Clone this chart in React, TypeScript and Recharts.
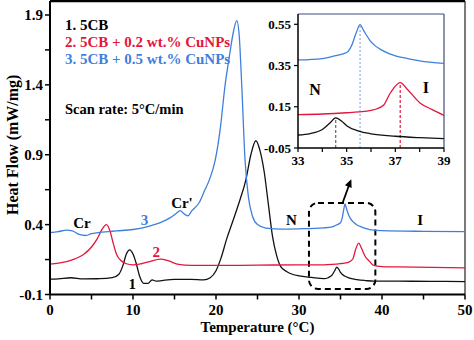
import React from 'react';
import { LineChart, Line, XAxis, YAxis, ReferenceLine, ReferenceArea, ReferenceDot } from 'recharts';

const FONT = '"Liberation Serif", "Times New Roman", serif';
const INK = '#111111';
const RED = '#e3163c';
const BLUE = '#3f7fdc';

// Series 1: 5CB (temperature °C, heat flow mW/mg)
const t1 = [0, 1, 2.5, 4, 6, 7.5, 8.3, 8.8, 9.2, 9.6, 10.0, 10.4, 10.8, 11.3, 11.8, 12.3, 12.8, 13.5, 15, 17, 18.5, 19.3, 20, 20.6, 21.3, 22, 22.9, 23.6, 24.2, 24.8, 25.3, 25.8, 26.3, 26.8, 27.3, 27.8, 28.5, 29.2, 30, 31.5, 33, 33.5, 34, 34.3, 34.55, 34.8, 35, 35.5, 36, 37, 38, 39, 42, 46, 50];
const h1 = [0.01, 0.012, 0.02, 0.012, 0.013, 0.02, 0.045, 0.11, 0.19, 0.22, 0.19, 0.12, 0.03, -0.02, -0.02, 0.005, -0.005, 0.0, 0.008, 0.008, 0.005, 0.02, 0.07, 0.16, 0.3, 0.42, 0.58, 0.72, 0.9, 1.0, 0.93, 0.78, 0.55, 0.32, 0.18, 0.1, 0.065, 0.045, 0.033, 0.022, 0.013, 0.02, 0.04, 0.07, 0.096, 0.08, 0.058, 0.032, 0.019, 0.007, 0.0, -0.005, -0.005, -0.006, -0.008];

// Series 2: 5CB + 0.2 wt.% CuNPs
const t2 = [0, 1, 2, 3, 4, 5, 5.7, 6.3, 6.8, 7.2, 7.6, 8.0, 8.5, 9.2, 10, 11, 12, 13.3, 14.3, 15.5, 17, 20, 25, 30, 33, 34, 35, 35.5, 36, 36.5, 36.8, 37.2, 37.5, 38, 38.5, 39, 40, 42, 50];
const h2 = [0.118, 0.125, 0.135, 0.155, 0.185, 0.24, 0.3, 0.37, 0.4, 0.36, 0.27, 0.19, 0.145, 0.12, 0.112, 0.12, 0.135, 0.153, 0.14, 0.115, 0.108, 0.108, 0.11, 0.112, 0.112, 0.115, 0.121, 0.125, 0.132, 0.156, 0.218, 0.267, 0.234, 0.17, 0.137, 0.108, 0.1, 0.097, 0.09];

// Series 3: 5CB + 0.5 wt.% CuNPs
const t3 = [0, 1, 2, 2.7, 3.5, 4.3, 5, 6, 7, 8, 10, 12, 13.5, 14.5, 15.2, 15.7, 16.1, 16.6, 17.1, 18, 18.6, 19.2, 19.9, 20.5, 21.1, 21.6, 22.1, 22.5, 22.8, 23.1, 23.5, 23.9, 24.4, 25, 26, 28, 30, 33, 34, 34.5, 35, 35.2, 35.4, 35.55, 35.7, 36, 36.5, 37, 37.5, 38, 39, 40, 45, 50];
const h3 = [0.342, 0.35, 0.36, 0.355, 0.33, 0.322, 0.335, 0.345, 0.35, 0.355, 0.365, 0.39, 0.42, 0.45, 0.48, 0.5, 0.48, 0.463, 0.5, 0.56, 0.64, 0.72, 0.86, 1.08, 1.4, 1.6, 1.78, 1.86, 1.75, 1.4, 0.86, 0.6, 0.46, 0.4, 0.375, 0.368, 0.37, 0.377, 0.384, 0.397, 0.413, 0.446, 0.511, 0.548, 0.519, 0.465, 0.421, 0.397, 0.384, 0.373, 0.36, 0.357, 0.352, 0.35];

const seriesNames = ['1. 5CB', '2. 5CB + 0.2 wt.% CuNPs', '3. 5CB + 0.5 wt.% CuNPs'];
const scanRate = 'Scan rate: 5°C/min';

const xTicks = [0, 5, 10, 15, 20, 25, 30, 35, 40, 45, 50];
const xTickLabels = ['0', '', '10', '', '20', '', '30', '', '40', '', '50'];
const yTicks = [-0.1, 0.15, 0.4, 0.65, 0.9, 1.15, 1.4, 1.65, 1.9];
const yTickLabels = ['-0.1', '', '0.4', '', '0.9', '', '1.4', '', '1.9'];

const insetRange = [33, 39];
const insetXTicks = [33, 34, 35, 36, 37, 38, 39];
const insetXTickLabels = ['33', '', '35', '', '37', '', '39'];
const insetYTicks = [-0.05, 0.15, 0.35, 0.55];
const insetYTickLabels = ['-0.05', '0.15', '0.35', '0.55'];

const toRows = (t: number[], h: number[]) => t.map((x, i) => ({ t: x, h: h[i] }));
const s1 = toRows(t1, h1);
const s2 = toRows(t2, h2);
const s3 = toRows(t3, h3);
const inRange = (rows: { t: number; h: number }[]) => rows.filter(r => r.t >= insetRange[0] && r.t <= insetRange[1]);
const i1 = inRange(s1);
const i2 = inRange(s2);
const i3 = inRange(s3);
const peakOf = (rows: { t: number; h: number }[]) => rows.reduce((a, b) => (b.h > a.h ? b : a));
const p1 = peakOf(i1);
const p2 = peakOf(i2);
const p3 = peakOf(i3);

const textStyle = { fontFamily: FONT, fontWeight: 700 as const };

const lookup = (ticks: number[], labels: string[], v: number) => {
  const i = ticks.findIndex(t => Math.abs(t - v) < 1e-6);
  return i >= 0 ? labels[i] : '';
};

const makeTick = (ticks: number[], labels: string[], size: number, vertical: boolean) => (p: any) => {
  const s = lookup(ticks, labels, p.payload.value);
  if (!s) return <g />;
  return (
    <text
      x={p.x}
      y={p.y}
      textAnchor={vertical ? 'end' : 'middle'}
      fill="#000"
      fontSize={size}
      fontFamily={FONT}
      fontWeight={700}
      style={textStyle}
      dy={vertical ? '0.35em' : '0.71em'}
    >
      {s}
    </text>
  );
};

function note(key: string, x: number, y: number, text: string, color: string, size = 15, anchor: 'start' | 'middle' = 'middle') {
  return (
    <ReferenceDot
      key={key}
      x={x}
      y={y}
      r={0}
      isFront
      shape={(p: any) => (
        <text x={p.cx} y={p.cy} fill={color} fontSize={size} textAnchor={anchor} dominantBaseline="central" style={textStyle}>
          {text}
        </text>
      )}
    />
  );
}

export default function App() {
  return (
    <div style={{ position: 'absolute', left: 0, top: 0, width: 474, height: 340, background: '#fff' }}>
      <LineChart width={474} height={340} margin={{ top: 1, right: 9, bottom: 0, left: 0 }}>
        <XAxis
          dataKey="t"
          type="number"
          domain={[0, 50]}
          ticks={xTicks}
          interval={0}
          allowDataOverflow
          tickSize={5}
          tickMargin={5}
          height={45.5}
          axisLine={{ stroke: '#000', strokeWidth: 2 }}
          tickLine={{ stroke: '#000', strokeWidth: 1.5 }}
          tick={makeTick(xTicks, xTickLabels, 15, false)}
          label={{
            content: (p: any) => (
              <text x={p.viewBox.x + p.viewBox.width / 2} y={p.viewBox.y + 37} textAnchor="middle" fontSize={15} fill="#000" style={textStyle}>
                Temperature (°C)
              </text>
            ),
          }}
        />
        <YAxis
          type="number"
          domain={[-0.1, 2.0]}
          ticks={yTicks}
          interval={0}
          allowDataOverflow
          tickSize={5}
          tickMargin={2}
          width={50}
          axisLine={{ stroke: '#000', strokeWidth: 2 }}
          tickLine={{ stroke: '#000', strokeWidth: 1.5 }}
          tick={makeTick(yTicks, yTickLabels, 15, true)}
          label={{
            content: (p: any) => {
              const cx = 12;
              const cy = p.viewBox.y + p.viewBox.height / 2 - 3;
              return (
                <text x={cx} y={cy} transform={`rotate(-90 ${cx} ${cy})`} textAnchor="middle" dominantBaseline="central" fontSize={16} fill="#000" style={textStyle}>
                  Heat Flow (mW/mg)
                </text>
              );
            },
          }}
        />
        <ReferenceLine y={2.0} stroke="#000" strokeWidth={2.5} />
        <ReferenceLine x={50} stroke="#222" strokeWidth={1.2} />
        <ReferenceArea
          x1={31.2}
          x2={39.2}
          y1={-0.06}
          y2={0.555}
          shape={(p: any) => (
            <rect x={p.x} y={p.y} width={p.width} height={p.height} rx={9} ry={9} fill="none" stroke="#000" strokeWidth={2} strokeDasharray="6 4" />
          )}
        />
        <ReferenceLine segment={[{ x: 35.25, y: 0.555 }, { x: 36.2, y: 0.71 }]} stroke="#000" strokeWidth={1.8} />
        <ReferenceDot
          x={36.3}
          y={0.725}
          r={0}
          shape={(p: any) => (
            <polygon points="0,0 -8,-3.6 -8,3.6" fill="#000" transform={`translate(${p.cx} ${p.cy}) rotate(-68)`} />
          )}
        />
        <Line data={s1} dataKey="h" type="monotone" stroke={INK} strokeWidth={1.3} dot={false} isAnimationActive={false} />
        <Line data={s2} dataKey="h" type="monotone" stroke={RED} strokeWidth={1.3} dot={false} isAnimationActive={false} />
        <Line data={s3} dataKey="h" type="monotone" stroke={BLUE} strokeWidth={1.3} dot={false} isAnimationActive={false} />
        {note('l1', 1.8, 1.83, seriesNames[0], '#000', 15, 'start')}
        {note('l2', 1.8, 1.706, seriesNames[1], RED, 15, 'start')}
        {note('l3', 1.8, 1.584, seriesNames[2], BLUE, 15, 'start')}
        {note('sr', 1.8, 1.23, scanRate, '#000', 14.5, 'start')}
        {note('cr', 3.85, 0.415, 'Cr', '#000')}
        {note('n3', 11.4, 0.43, '3', BLUE)}
        {note('crp', 15.9, 0.556, "Cr'", '#000')}
        {note('n2', 12.8, 0.206, '2', RED)}
        {note('n1', 9.9, -0.025, '1', '#000')}
        {note('nN', 29.1, 0.432, 'N', '#000')}
        {note('nI', 44.6, 0.432, 'I', '#000')}
      </LineChart>

      <div style={{ position: 'absolute', left: 248, top: 13 }}>
        <LineChart width={210} height={160} margin={{ top: 1, right: 14, bottom: 0, left: 0 }}>
          <XAxis
            dataKey="t"
            type="number"
            domain={insetRange}
            ticks={insetXTicks}
            interval={0}
            allowDataOverflow
            tickSize={4}
            tickMargin={4}
            height={25}
            axisLine={{ stroke: '#000', strokeWidth: 1.5 }}
            tickLine={{ stroke: '#000', strokeWidth: 1.2 }}
            tick={makeTick(insetXTicks, insetXTickLabels, 13, false)}
          />
          <YAxis
            type="number"
            domain={[-0.05, 0.6]}
            ticks={insetYTicks}
            interval={0}
            allowDataOverflow
            tickSize={4}
            tickMargin={3}
            width={50}
            axisLine={{ stroke: '#000', strokeWidth: 1.5 }}
            tickLine={{ stroke: '#000', strokeWidth: 1.2 }}
            tick={makeTick(insetYTicks, insetYTickLabels, 13, true)}
          />
          <ReferenceLine y={0.6} stroke="#3e4c7e" strokeWidth={1.2} />
          <ReferenceLine x={39} stroke="#3e4c7e" strokeWidth={1.2} />
          <ReferenceLine segment={[{ x: p1.t, y: -0.05 }, { x: p1.t, y: p1.h }]} stroke="#666" strokeWidth={1.2} strokeDasharray="3 2" />
          <ReferenceLine segment={[{ x: p3.t, y: -0.05 }, { x: p3.t, y: p3.h }]} stroke="#7d98e4" strokeWidth={1} strokeDasharray="2 2" />
          <ReferenceLine segment={[{ x: p2.t, y: -0.05 }, { x: p2.t, y: p2.h }]} stroke={RED} strokeWidth={1.2} strokeDasharray="3 2" />
          <Line data={i1} dataKey="h" type="monotone" stroke={INK} strokeWidth={1.3} dot={false} isAnimationActive={false} />
          <Line data={i2} dataKey="h" type="monotone" stroke={RED} strokeWidth={1.3} dot={false} isAnimationActive={false} />
          <Line data={i3} dataKey="h" type="monotone" stroke={BLUE} strokeWidth={1.3} dot={false} isAnimationActive={false} />
          {note('iN', 33.7, 0.234, 'N', '#000', 16)}
          {note('iI', 38.25, 0.244, 'I', '#000', 16)}
        </LineChart>
      </div>
    </div>
  );
}
